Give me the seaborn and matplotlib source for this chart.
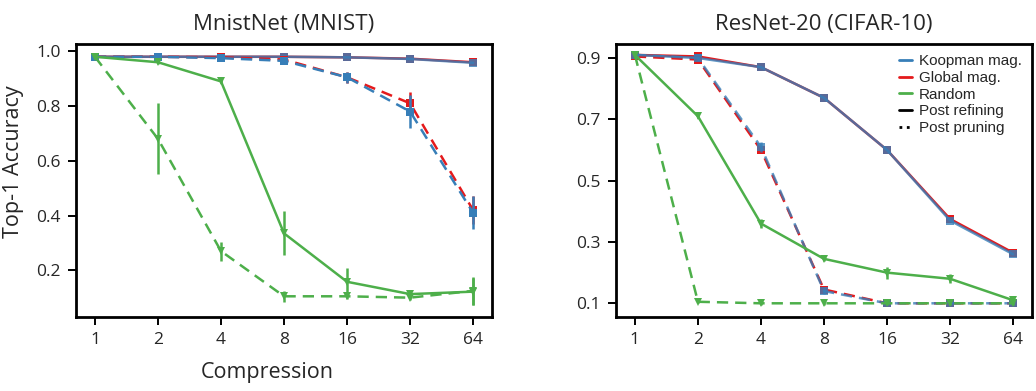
import numpy as np
import pandas as pd
import seaborn as sns
import matplotlib.pyplot as plt
from matplotlib.lines import Line2D

compression = [1, 2, 4, 8, 16, 32, 64]

# MnistNet (MNIST)
mn_koop_ref = [0.980, 0.980, 0.980, 0.980, 0.978, 0.972, 0.958]
mn_glob_ref = [0.980, 0.980, 0.980, 0.980, 0.978, 0.973, 0.960]
mn_rand_ref = [0.980, 0.960, 0.890, 0.335, 0.158, 0.113, 0.122]
mn_koop_pru = [0.980, 0.980, 0.975, 0.965, 0.905, 0.780, 0.410]
mn_glob_pru = [0.980, 0.980, 0.978, 0.970, 0.905, 0.810, 0.420]
mn_rand_pru = [0.980, 0.680, 0.270, 0.105, 0.105, 0.100, 0.125]
mn_koop_pru_err = [0.0, 0.0, 0.008, 0.01, 0.02, 0.06, 0.06]
mn_glob_pru_err = [0.0, 0.0, 0.005, 0.008, 0.02, 0.04, 0.05]
mn_rand_ref_err = [0.0, 0.005, 0.005, 0.08, 0.05, 0.015, 0.05]
mn_rand_pru_err = [0.0, 0.13, 0.035, 0.02, 0.01, 0.01, 0.05]

# ResNet-20 (CIFAR-10)
rn_koop_ref = [0.910, 0.900, 0.870, 0.770, 0.600, 0.370, 0.260]
rn_glob_ref = [0.910, 0.905, 0.870, 0.770, 0.600, 0.375, 0.265]
rn_rand_ref = [0.910, 0.710, 0.360, 0.245, 0.200, 0.180, 0.110]
rn_koop_pru = [0.910, 0.900, 0.610, 0.140, 0.100, 0.100, 0.100]
rn_glob_pru = [0.905, 0.895, 0.600, 0.145, 0.100, 0.100, 0.100]
rn_rand_pru = [0.910, 0.105, 0.100, 0.100, 0.100, 0.100, 0.100]
rn_koop_pru_err = [0.0, 0.005, 0.015, 0.01, 0.005, 0.005, 0.005]
rn_glob_pru_err = [0.0, 0.005, 0.01, 0.01, 0.005, 0.005, 0.005]
rn_rand_ref_err = [0.0, 0.005, 0.015, 0.008, 0.02, 0.015, 0.01]
rn_rand_pru_err = [0.0, 0.005, 0.005, 0.005, 0.005, 0.005, 0.005]

BLUE, RED, GREEN = '#377eb8', '#e41a1c', '#4daf4a'
DASH = (0, (4.5, 2.8))

sns.set_theme(style='ticks')
plt.rcParams['font.family'] = ['Open Sans', 'DejaVu Sans']

fig = plt.figure(figsize=(10.36, 3.91), dpi=100)
ax1 = fig.add_axes([0.0734, 0.189, 0.4015, 0.698])
ax2 = fig.add_axes([0.5946, 0.189, 0.4015, 0.698])


def draw(ax, series):
    for y, err, color, ls, marker, alpha in series:
        df = pd.DataFrame({'c': compression, 'acc': y})
        sns.lineplot(data=df, x='c', y='acc', ax=ax, color=color, linestyle=ls,
                     linewidth=1.8, marker=marker, markersize=6,
                     markeredgewidth=0, alpha=alpha, legend=False)
        if err is not None:
            ax.errorbar(compression, y, yerr=err, fmt='none', ecolor=color,
                        elinewidth=1.8, alpha=alpha)


draw(ax1, [
    (mn_glob_ref, None, RED, '-', 's', 1.0),
    (mn_koop_ref, None, BLUE, '-', 's', 0.8),
    (mn_glob_pru, mn_glob_pru_err, RED, DASH, 's', 1.0),
    (mn_koop_pru, mn_koop_pru_err, BLUE, DASH, 's', 1.0),
    (mn_rand_ref, mn_rand_ref_err, GREEN, '-', 'v', 1.0),
    (mn_rand_pru, mn_rand_pru_err, GREEN, DASH, 'v', 1.0),
])
draw(ax2, [
    (rn_glob_ref, None, RED, '-', 's', 1.0),
    (rn_koop_ref, None, BLUE, '-', 's', 0.8),
    (rn_glob_pru, rn_glob_pru_err, RED, DASH, 's', 1.0),
    (rn_koop_pru, rn_koop_pru_err, BLUE, DASH, 's', 0.8),
    (rn_rand_ref, rn_rand_ref_err, GREEN, '-', 'v', 1.0),
    (rn_rand_pru, rn_rand_pru_err, GREEN, DASH, 'v', 1.0),
])

for ax in (ax1, ax2):
    ax.set_xscale('log', base=2)
    ax.set_xlim(2 ** -0.3, 2 ** 6.3)
    ax.set_xticks(compression)
    ax.set_xticklabels([str(c) for c in compression])
    ax.minorticks_off()
    ax.tick_params(axis='both', labelsize=12.5, length=6, width=1.4,
                   direction='out', color='black', pad=5)
    for s in ax.spines.values():
        s.set_linewidth(2)
        s.set_color('black')
    ax.set_xlabel('')
    ax.set_ylabel('')

ax1.set_ylim(0.029, 1.026)
ax1.set_yticks([0.2, 0.4, 0.6, 0.8, 1.0])
ax1.set_yticklabels(['0.2', '0.4', '0.6', '0.8', '1.0'])
ax1.set_title('MnistNet (MNIST)', fontsize=16, pad=10)
ax1.set_ylabel('Top-1 Accuracy', fontsize=15.5)
ax1.yaxis.set_label_coords(-0.125, 0.57)
ax1.set_xlabel('Compression', fontsize=15.5)
ax1.xaxis.set_label_coords(0.46, -0.165)

ax2.set_ylim(0.055, 0.945)
ax2.set_yticks([0.1, 0.3, 0.5, 0.7, 0.9])
ax2.set_yticklabels(['0.1', '0.3', '0.5', '0.7', '0.9'])
ax2.set_title('ResNet-20 (CIFAR-10)', fontsize=16, pad=10)

handles = [
    Line2D([], [], color=BLUE, lw=2),
    Line2D([], [], color=RED, lw=2),
    Line2D([], [], color=GREEN, lw=2),
    Line2D([], [], color='black', lw=2),
    Line2D([], [], color='black', lw=2, ls=':'),
]
labels = ['Koopman mag.', 'Global mag.', 'Random', 'Post refining', 'Post pruning']
ax2.legend(handles, labels, loc='upper right', frameon=False,
           handlelength=0.8, handletextpad=0.5, labelspacing=0.18,
           borderaxespad=0.25, prop={'family': 'Liberation Sans', 'size': 11})

fig.savefig('out.png', dpi=100)
